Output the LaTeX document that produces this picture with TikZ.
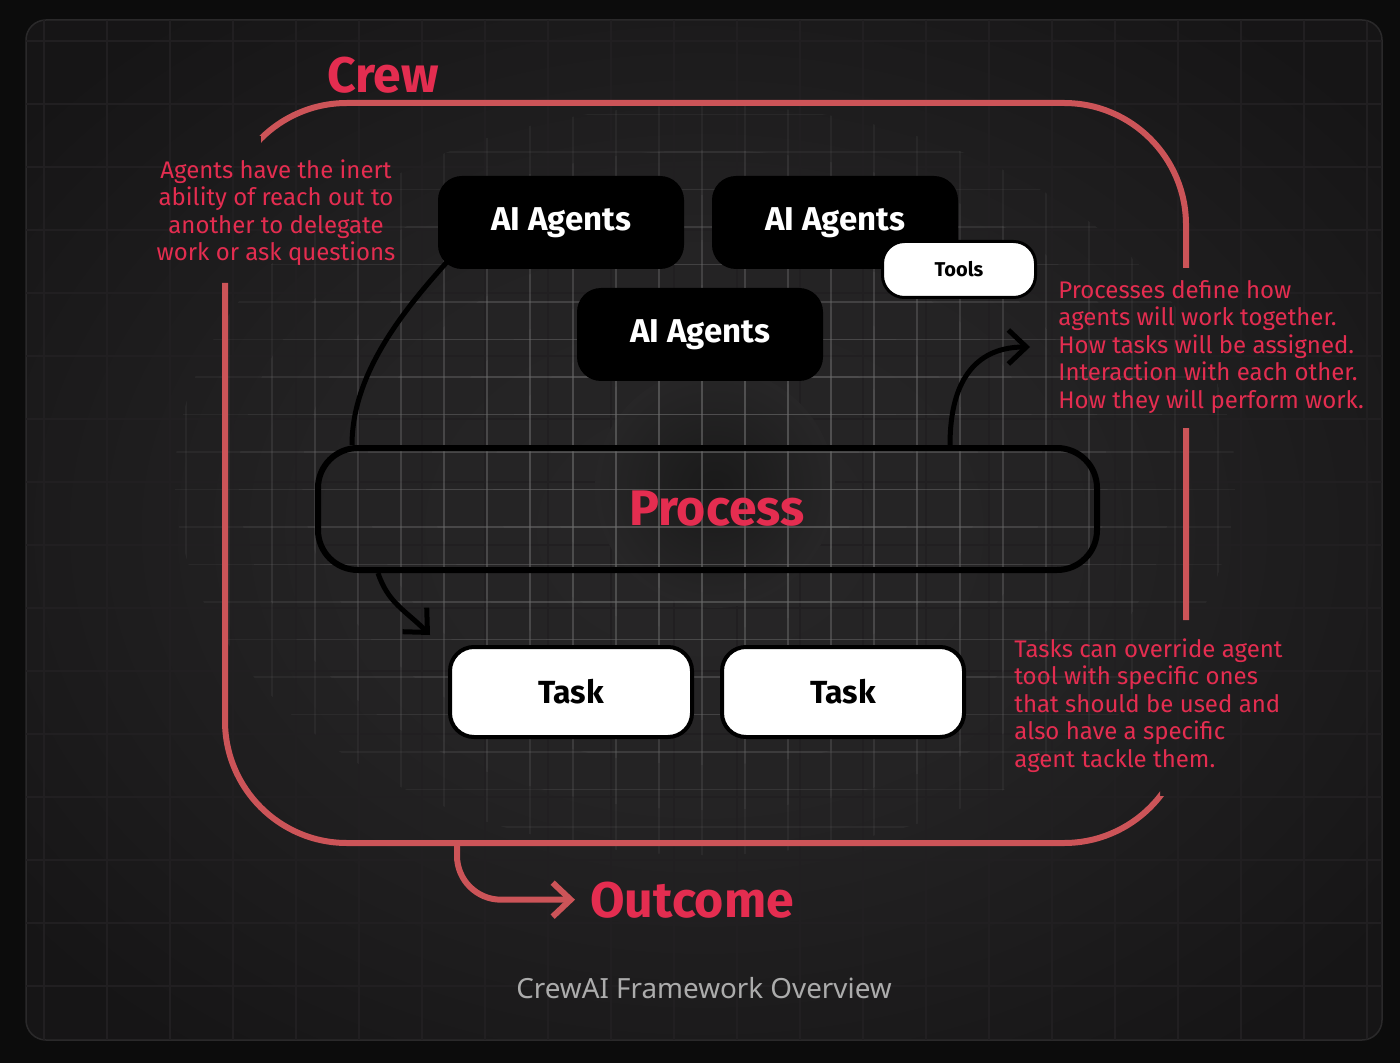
\documentclass[tikz,border=0pt]{standalone}
\usepackage{fontspec}
\setmainfont{Fira Sans}
\newfontfamily\capfont{Noto Sans}
\usetikzlibrary{arrows.meta,calc}

\definecolor{pagebg}{HTML}{0C0C0C}
\definecolor{panelbg}{HTML}{161516}
\definecolor{panelglow}{HTML}{272627}
\definecolor{panelline}{HTML}{2A292A}
\definecolor{coarsegrid}{HTML}{211F21}
\definecolor{finegrid}{HTML}{707070}
\definecolor{crewred}{RGB}{204,84,88}
\definecolor{notered}{RGB}{228,45,80}
\definecolor{captiongray}{RGB}{172,172,172}

\pgfdeclareradialshading{panelshade}{\pgfpoint{0bp}{0bp}}{color(0bp)=(panelglow); color(14bp)=(panelglow!80!panelbg); color(32bp)=(panelbg); color(50bp)=(panelbg)}

\tikzset{
  agentbox/.style={fill=black, rounded corners=12pt, minimum width=123pt, minimum height=46.5pt, text=white, font=\fontsize{16.5}{18}\selectfont\bfseries},
  taskbox/.style={draw=black, line width=2pt, fill=white, rounded corners=12pt, minimum width=121pt, minimum height=45pt, font=\fontsize{16}{18}\selectfont\bfseries},
  toolbox/.style={draw=black, line width=1.5pt, fill=white, rounded corners=11pt, minimum width=76.5pt, minimum height=28pt, font=\fontsize{10}{12}\selectfont\bfseries},
  procbox/.style={draw=black, line width=3pt, rounded corners=20pt, minimum width=389.5pt, minimum height=61pt, text=notered, font=\fontsize{25}{28}\selectfont\bfseries},
  note/.style={text=notered, inner sep=0pt, font=\fontsize{12}{13.75}\selectfont},
  bigred/.style={text=notered, inner sep=0pt, font=\fontsize{25}{28}\selectfont\bfseries},
  crewline/.style={draw=crewred, line width=3pt},
  link/.style={draw=black, line width=2.5pt},
  barb/.style={-{Straight Barb[length=9pt,width=17pt]}},
}

\begin{document}
\begin{tikzpicture}[x=0.5pt, y=-0.5pt]
\useasboundingbox (0,0) rectangle (1400,1063);
\fill[pagebg] (0,0) rectangle (1400,1063);

% panel and its grids
\shadedraw[shading=panelshade, draw=panelline, line width=0.75pt, rounded corners=10pt] (26,20) rectangle (1382,1040);
\begin{scope}
  \clip[rounded corners=10pt] (26,20) rectangle (1382,1040);
  \foreach \gx in {44,107,...,1382} \draw[coarsegrid, line width=0.6pt] (\gx,20) -- (\gx,1040);
  \foreach \gy in {41,104,...,1040} \draw[coarsegrid, line width=0.6pt] (26,\gy) -- (1382,\gy);
\end{scope}
\shade[inner color=black!90!white, outer color=panelglow] (715,488) circle (120);
\foreach \s in {1.00,0.88,0.76,0.64,0.52,0.40,0.30} {
  \begin{scope}
    \clip (705,480) ellipse [x radius={530*\s}, y radius={375*\s}];
    \foreach \fx in {100,143,...,1300} \draw[finegrid, opacity=0.12, line width=0.6pt] (\fx,60) -- (\fx,980);
    \foreach \fy in {77,114.5,...,960} \draw[finegrid, opacity=0.12, line width=0.6pt] (80,\fy) -- (1330,\fy);
  \end{scope}
}

% crew frame, with its gaps
\begin{scope}
  \clip (0,0) -- (1400,0) -- (1400,268) -- (1160,268) -- (1160,428) -- (1400,428) -- (1400,620) -- (1160,620) -- (1160,796) -- (1400,796) -- (1400,1063) -- (0,1063) -- (0,283) -- (261,283) -- (261,136) -- (0,136) -- cycle;
  \draw[crewline, rounded corners=61pt] (225,103) rectangle (1186,843);
\end{scope}
\node[bigred, anchor=base] (crew) at (383,93) {Crew};

% agents, process, tasks
\node[agentbox] (agentA) at (561,222.5) {AI Agents};
\node[agentbox] (agentB) at (835,222.5) {AI Agents};
\node[toolbox] (tools) at (959,269.5) {Tools};
\node[agentbox] (agentC) at (700,334.5) {AI Agents};
\node[procbox] (process) at (707.5,509) {\hspace*{9.5pt}Process};
\node[taskbox] (taskA) at (571,692) {Task};
\node[taskbox] (taskB) at (843,692) {Task};

% notes
\node[note, align=center] (noteAgents) at (276,212.5) {Agents have the inert\\ability of reach out to\\another to delegate\\work or ask questions};
\node[note, align=left, anchor=west] (noteProc) at (1058,347) {Processes define how\\agents will work together.\\How tasks will be assigned.\\Interaction with each other.\\How they will perform work.};
\node[note, align=left, anchor=west] (noteTasks) at (1014,705.5) {Tasks can override agent\\tool with specific ones\\that should be used and\\also have a specific\\agent tackle them.};

% connectors
\draw[link] ($(agentA.south west)+(9,-7)$) .. controls +(-45,50) and +(0,-70) .. ($(process.north west)+(37,0)$);
\draw[link, barb] ($(process.south west)+(63,0)$) .. controls +(10,30) and +(-25,-25) .. ($(taskA.north west)+(-18,-10)$);
\draw[link, barb] ($(process.north west)+(635,0)$) .. controls +(0,-70) and +(-50,0) .. ($(noteProc.west)+(-28,0)$);

% outcome
\node[bigred, anchor=base west] (outcome) at (590,917) {Outcome};
\coordinate (crewout) at (457,843);
\draw[crewline, barb, rounded corners=22pt] (crewout) |- ($(outcome.west)+(-15,0)$);

\node[text=captiongray, font=\capfont\fontsize{13.9}{16}\selectfont, anchor=base] (caption) at (704,998) {CrewAI Framework Overview};
\end{tikzpicture}
\end{document}
